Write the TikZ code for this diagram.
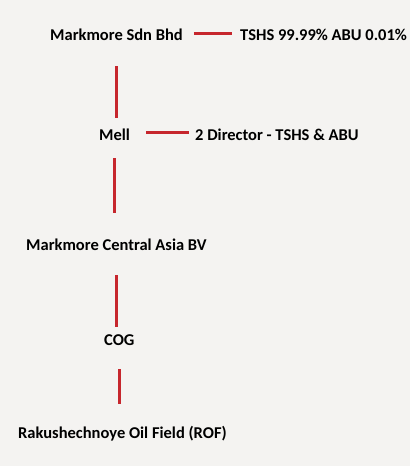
\documentclass[tikz,border=0pt]{standalone}
\usepackage{fontspec}
\setmainfont{Carlito}
\usepackage{xcolor}
\usepackage{tikz}

\definecolor{paper}{RGB}{244,243,241}
\definecolor{linkred}{RGB}{198,38,45}

\begin{document}
\begin{tikzpicture}[x=1pt,y=-1pt,font=\bfseries\fontsize{16.5}{19}\selectfont,
        every node/.style={inner sep=0pt},
        link/.style={draw=linkred,line width=3pt}]
        \fill [paper] (0,0) rectangle (410,466);
        \useasboundingbox (0,0) rectangle (410,466);
        \node [anchor=west] (sdn) at (50,35) {Markmore Sdn Bhd};
        \node [anchor=west] (tshs) at (240,35) {TSHS 99.99\% ABU 0.01\%};
        \node [anchor=west] (mell) at (99,135) {Mell};
        \node [anchor=west] (dir) at (195,135) {2 Director - TSHS \& ABU};
        \node [anchor=west] (central) at (26,245) {Markmore Central Asia BV};
        \node [anchor=west] (cog) at (104,340) {COG};
        \node [anchor=west] (rof) at (18,434) {Rakushechnoye Oil Field (ROF)};
        \draw [link,shorten <=11pt,shorten >=8pt] ([yshift=2pt]sdn.east) -- ([yshift=2pt]tshs.west);
        \draw [link,shorten <=16pt,shorten >=6pt] ([yshift=3pt]mell.east) -- ([yshift=3pt]dir.west);
        \foreach \a/\b/\s/\e in {sdn/mell/31/17,mell/central/23/32,central/cog/30/13,cog/rof/29/30}
            \draw [link,shorten <=\s pt,shorten >=\e pt] (\a.center) -- (\a.center |- \b.center);
    \end{tikzpicture}
\end{document}
